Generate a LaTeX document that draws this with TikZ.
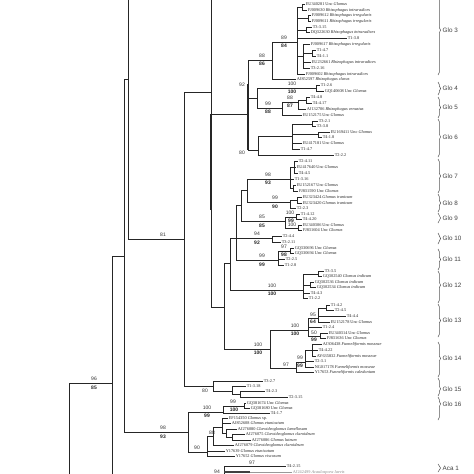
\documentclass[tikz,border=0pt]{standalone}
\usepackage{fontspec}
\setmainfont{Liberation Serif}
\newfontfamily\arialf{Liberation Sans}
\usetikzlibrary{decorations.pathreplacing}
\newcounter{lfc}
\newcommand{\Vln}[3]{\draw[br] (#1,#2) -- (#1,#3);}
\newcommand{\Hln}[3]{\draw[br] (#1,#3) -- (#2,#3);}
\newcommand{\Leaf}[4]{\stepcounter{lfc}\draw[br] (#1,#2) -- (#3,#2) node[leaf] (lf\arabic{lfc}) {#4};}
\newcommand{\BS}[3]{\node[bs] at (#1,#2) {#3};}
\newcommand{\BSb}[3]{\node[bsb] at (#1,#2) {#3};}
\newcommand{\Glo}[5]{\draw[brc,decoration={brace,amplitude=2.6pt,aspect=#3}] (438,#1) -- (438,#2);
  \node[glo] at (442.5,#4) {#5};}
\tikzset{
  br/.style={draw=black!85, line width=0.55pt},
  leaf/.style={anchor=west, inner sep=0.5pt, font=\fontsize{4.3}{5}\selectfont, text=black!85},
  bs/.style={inner sep=0pt, font=\arialf\fontsize{5}{5}\selectfont, text=black!80},
  bsb/.style={inner sep=0pt, font=\arialf\bfseries\fontsize{5}{5}\selectfont, text=black!85},
  brc/.style={draw=black!65, line width=0.5pt, decorate},
  glo/.style={anchor=west, inner sep=0pt, font=\arialf\fontsize{6.3}{7}\selectfont, text=black!75},
}
\begin{document}
\begin{tikzpicture}[x=1pt,y=-1pt]
\useasboundingbox (0,0) rectangle (474,474);
\fill[white] (0,0) rectangle (474,474);
\clip (0,0) rectangle (474,474);
% ---------- backbone ----------
\Vln{128}{-10}{239}
\Hln{128}{184}{239} \BS{163}{234.5}{81}
\Hln{124}{128}{79}
\Vln{124}{79}{432}
\Hln{124}{188}{432} \BS{163}{428}{98} \BSb{163}{436.5}{93}
\Hln{112}{124}{256}
\Vln{112}{256}{480}
\Hln{69}{112}{383} \BS{94}{378.5}{96} \BSb{94}{387.5}{85}
\Vln{69}{383}{480}
% N184
\Vln{184}{92}{386}
\Hln{184}{211}{92}
\Hln{184}{213}{386} \BS{205}{390.5}{80}
% N211
\Vln{211}{-10}{307}
\draw[black!85, line width=1.3pt] (211,114) -- (211,210);
\Hln{211}{248}{114}
\Hln{211}{224}{307}
% N248
\Vln{248}{60}{150}
\draw[black!85, line width=1.3pt] (248,84) -- (248,150);
\BS{242}{85}{92}
\Hln{248}{272}{60} \BS{262}{55.5}{88} \BSb{262}{64}{86}
\Hln{248}{257}{98}
\Hln{248}{258}{150} \BS{242}{153}{80}
% ---------- Glo 3 ----------
\Vln{272}{42}{79.5}
\Hln{272}{297}{42} \BS{284}{37.5}{89} \BSb{284}{46}{84}
\Leaf{272}{79.5}{296}{AJ852597 \textit{Rhizophagus clarus}}
\Vln{297}{7}{74}
\Hln{297}{302}{7}
\Vln{302}{4}{10}
\Leaf{302}{4}{305}{EU340281 Unc \textit{Glomus}}
\Leaf{302}{10}{307}{FJ009630 \textit{Rhizophagus intraradices}}
\Hln{297}{308}{18}
\Vln{308}{15.5}{21}
\Leaf{308}{15.5}{311}{FJ009612 \textit{Rhizophagus irregularis}}
\Leaf{308}{21}{311}{FJ009611 \textit{Rhizophagus irregularis}}
\Hln{297}{306}{30}
\Vln{306}{27}{32.5}
\Leaf{306}{27}{312}{T3-3.15}
\Leaf{306}{32.5}{310}{DQ322630 \textit{Rhizophagus intraradices}}
\Leaf{297}{38}{347}{T1-3.8}
\Hln{297}{303}{56}
\Vln{303}{44}{68}
\Leaf{303}{44}{310}{FJ009617 \textit{Rhizophagus irregularis}}
\Hln{303}{312}{53}
\Vln{312}{50}{56}
\Leaf{312}{50}{316}{T1-4.7}
\Leaf{312}{56}{316}{T4-1.1}
\Leaf{303}{62}{311}{EU232661 \textit{Rhizophagus intraradices}}
\Leaf{303}{68}{310}{T3-2.16}
\Leaf{297}{74}{305}{FJ009602 \textit{Rhizophagus intraradices}}
% ---------- Glo 4 / 5 ----------
\Vln{257}{88}{108}
\Hln{257}{316}{88} \BS{292}{84}{100} \BSb{292}{92}{100}
\Vln{316}{85}{91}
\Leaf{316}{85}{320}{T1-2.6}
\Leaf{316}{91}{324}{GQ140608 Unc \textit{Glomus}}
\Hln{257}{282}{108} \BS{268}{103.5}{99} \BSb{268}{112}{88}
\Vln{282}{102}{115}
\Hln{282}{298}{102} \BS{290}{98}{88} \BSb{290}{106}{87}
\Vln{298}{100}{109}
\Hln{298}{306}{100}
\Vln{306}{97}{103}
\Leaf{306}{97}{310}{T4-4.8}
\Leaf{306}{103}{312}{T4-4.17}
\Leaf{298}{109}{306}{AJ132706 \textit{Rhizophagus venustus}}
\Leaf{282}{115}{302}{EU152175 Unc \textit{Glomus}}
% ---------- Glo 6 ----------
\Vln{258}{136}{155}
\Hln{258}{292}{136}
\Vln{292}{124}{149}
\Hln{292}{312}{124}
\Vln{312}{121}{126.5}
\Leaf{312}{121}{318}{T3-2.1}
\Leaf{312}{126.5}{316}{T3-3.8}
\Hln{292}{318}{134.5}
\Vln{318}{132}{137.5}
\Leaf{318}{132}{330}{EU169411 Unc \textit{Glomus}}
\Leaf{318}{137.5}{322}{T4-1.8}
\Leaf{292}{143.5}{302}{EU417181 Unc \textit{Glomus}}
\Leaf{292}{149}{300}{T1-4.7}
\Leaf{258}{155}{334}{T2-2.2}
% ---------- lower part ----------
\Vln{224}{263}{349}
\Hln{224}{230}{263}
\Vln{230}{238}{290}
\Hln{230}{303}{290} \BS{272}{285.5}{100} \BSb{272}{294}{100}
\Hln{230}{236}{238}
\Vln{236}{205}{260}
\Hln{236}{241}{205}
\Hln{236}{272}{238} \BS{257}{234}{94} \BSb{257}{242.5}{92}
\Hln{236}{278}{260} \BS{262}{256}{99} \BSb{262}{264.5}{99}
\Vln{241}{190}{221}
\Hln{241}{247}{190}
\Hln{241}{285}{221} \BS{262}{217}{85} \BSb{262}{225.5}{85}
\Vln{247}{179}{202}
\Hln{247}{290}{179} \BS{268}{174.5}{98} \BSb{268}{183}{93}
\Hln{247}{290}{202} \BS{275}{198}{99} \BSb{275}{206.5}{90}
% Glo 7
\Vln{290}{167}{188}
\Hln{290}{294}{167}
\Vln{294}{161}{173}
\Leaf{294}{161}{298}{T2-4.11}
\Leaf{294}{167}{296}{EU417640 Unc \textit{Glomus}}
\Leaf{294}{173}{298}{T4-4.5}
\Leaf{290}{179}{294}{T1-3.16}
\Hln{290}{293}{188}
\Vln{293}{185}{191}
\Leaf{293}{185}{296}{EU152167 Unc \textit{Glomus}}
\Leaf{293}{191}{298}{FJ831590 Unc \textit{Glomus}}
% Glo 8
\Vln{290}{200}{208.5}
\Hln{290}{297}{200}
\Vln{297}{197}{203}
\Leaf{297}{197}{302}{EU323424 \textit{Glomus iranicum}}
\Leaf{297}{203}{302}{EU323420 \textit{Glomus iranicum}}
\Leaf{290}{208.5}{296}{T2-2.3}
% Glo 9
\Vln{285}{217}{228}
\Hln{285}{296}{217} \BS{290}{213}{100} \BSb{291}{220.5}{99}
\Vln{296}{214}{219.5}
\Leaf{296}{214}{300}{T1-4.12}
\Leaf{296}{219.5}{302}{T4-4.20}
\Hln{285}{298}{228} \BS{292}{224.5}{100}
\Vln{298}{225}{230.5}
\Leaf{298}{225}{302}{EU340306 Unc \textit{Glomus}}
\Leaf{298}{230.5}{302}{FJ831604 Unc \textit{Glomus}}
% Glo 10
\Vln{272}{236.5}{242}
\Leaf{272}{236.5}{282}{T2-4.4}
\Leaf{272}{242}{281}{T3-2.11}
% Glo 11
\Vln{278}{251}{265}
\Hln{278}{290}{251} \BS{284}{247}{97} \BSb{284}{254.5}{98}
\Vln{290}{248}{253.5}
\Leaf{290}{248}{294}{GQ330696 Unc \textit{Glomus}}
\Leaf{290}{253.5}{294}{GQ330694 Unc \textit{Glomus}}
\Leaf{278}{259}{285}{T2-2.5}
\Leaf{278}{265}{284}{T1-2.8}
% Glo 12
\Vln{303}{274}{298.5}
\Hln{303}{318}{274}
\Vln{318}{271}{276.5}
\Leaf{318}{271}{324}{T3-3.5}
\Leaf{318}{276.5}{322}{GQ302540 \textit{Glomus indicum}}
\Hln{303}{310}{285}
\Vln{310}{282}{287.5}
\Leaf{310}{282}{314}{GQ302536 \textit{Glomus indicum}}
\Leaf{310}{287.5}{316}{GQ302534 \textit{Glomus indicum}}
\Leaf{303}{293}{310}{T4-4.3}
\Leaf{303}{298.5}{308}{T1-2.2}
% Glo 13 / 14
\Hln{224}{270}{349} \BS{258}{344.5}{100} \BSb{258}{353}{100}
\Vln{270}{330}{368}
\Hln{270}{308}{330} \BS{295}{325.5}{100} \BSb{295}{334}{100}
\Vln{308}{318}{336}
\Hln{308}{318}{318} \BS{313}{314.5}{95} \BSb{313}{322}{64}
\Vln{318}{308}{322}
\Hln{318}{326}{308}
\Vln{326}{305}{310.5}
\Leaf{326}{305}{330}{T1-4.2}
\Leaf{326}{310.5}{334}{T2-4.5}
\Leaf{318}{316}{346}{T4-4.4}
\Leaf{318}{322}{330}{EU152178 Unc \textit{Glomus}}
\Leaf{308}{327.5}{322}{T1-2.4}
\Hln{308}{320}{336} \BS{314}{332.5}{50} \BSb{314}{340}{99}
\Vln{320}{333}{338.5}
\Leaf{320}{333}{328}{EU340314 Unc \textit{Glomus}}
\Leaf{320}{338.5}{326}{FJ831636 Unc \textit{Glomus}}
\Hln{270}{296}{368} \BS{286}{364.5}{97}
\Vln{296}{362}{372.5}
\Hln{296}{305}{362} \BS{300}{357.5}{99} \BSb{300}{365.5}{99}
\Vln{305}{350}{367}
\Hln{305}{312}{350}
\Vln{312}{344.5}{356}
\Leaf{312}{344.5}{322}{AJ306438 \textit{Funneliformis mosseae}}
\Leaf{312}{350}{318}{T4-4.22}
\Leaf{312}{356}{316}{AY635832 \textit{Funneliformis mosseae}}
\Leaf{305}{361.5}{314}{T2-3.1}
\Leaf{305}{367}{314}{NG017178 \textit{Funneliformis mosseae}}
\Leaf{296}{372.5}{314}{Y17653 \textit{Funneliformis caledonium}}
% ---------- Glo 15 ----------
\Vln{213}{381}{391}
\Leaf{213}{381}{263}{T3-2.7}
\Hln{213}{232}{391}
\Vln{232}{386}{394}
\Leaf{232}{386}{246}{T1-3.18}
\Hln{232}{240}{394}
\Vln{240}{391.5}{397}
\Leaf{240}{391.5}{265}{T4-2.3}
\Leaf{240}{397}{288}{T2-3.15}
% ---------- Glo 16 + Claroideoglomus ----------
\Vln{188}{412}{452}
\Hln{188}{223}{412} \BS{207}{407.5}{100} \BSb{207}{416}{99}
\Vln{223}{406}{413}
\Hln{223}{244}{406} \BS{233}{402}{99} \BSb{234}{409.8}{100}
\Vln{244}{403}{408}
\Leaf{244}{403}{246}{GQ381674 Unc \textit{Glomus}}
\Leaf{244}{408}{250}{GQ381680 Unc \textit{Glomus}}
\Leaf{223}{413}{270}{T4-1.7}
\Hln{188}{207}{452} \BS{197}{448}{90}
\Vln{207}{436}{456.5}
\Hln{207}{213}{436} \BS{212}{432.5}{88}
\Vln{213}{427}{445.5}
\Hln{213}{222}{427}
\Vln{222}{418}{433}
\Leaf{222}{418}{228}{EF154350 \textit{Glomus} sp.}
\Leaf{222}{423.5}{231}{AJ852608 \textit{Glomus etunicatum}}
\Hln{222}{226}{433}
\Vln{226}{429}{437}
\Leaf{226}{429}{237}{AJ276080 \textit{Claroideoglomus lamellosum}}
\Hln{226}{232}{437}
\Vln{232}{434.5}{440}
\Leaf{232}{434.5}{245}{AJ276075 \textit{Claroideoglomus claroideum}}
\Leaf{232}{440}{251}{AJ276086 \textit{Glomus luteum}}
\Leaf{213}{445.5}{234}{AJ276079 \textit{Claroideoglomus claroideum}}
\Leaf{207}{451}{225}{Y17639 \textit{Glomus etunicatum}}
\Leaf{207}{456.5}{235}{Y17652 \textit{Glomus viscosum}}
% ---------- bottom (Acaulospora) ----------
\Vln{224}{466}{480}
\Leaf{224}{466}{286}{T4-2.15} \BS{252}{462.5}{97}
\BS{217}{472}{94}
\draw[black!75, line width=2pt] (224,472) -- (250,472);
\draw[black!40, line width=0.6pt] (250,472) -- (292,472) node[leaf,text=black!45] (aca) {AJ242499 \textit{Acaulospora laevis}};
% ---------- braces ----------
\Glo{-5}{75}{0.44}{30}{Glo 3}
\Glo{82}{95}{0.5}{88.5}{Glo 4}
\Glo{97}{118}{0.5}{107.5}{Glo 5}
\Glo{119}{157}{0.47}{137}{Glo 6}
\Glo{159}{193}{0.5}{176}{Glo 7}
\Glo{194}{212}{0.5}{203}{Glo 8}
\Glo{213}{223}{0.5}{218}{Glo 9}
\Glo{233}{244}{0.5}{238.5}{Glo 10}
\Glo{249}{270}{0.5}{259.5}{Glo 11}
\Glo{271}{303}{0.44}{285}{Glo 12}
\Glo{304}{337}{0.5}{320.5}{Glo 13}
\Glo{342}{377}{0.47}{358}{Glo 14}
\Glo{378}{396}{0.6}{389}{Glo 15}
\Glo{397}{420}{0.3}{404}{Glo 16}
\Glo{464}{472}{0.5}{468}{Aca 1}
\end{tikzpicture}
\end{document}
